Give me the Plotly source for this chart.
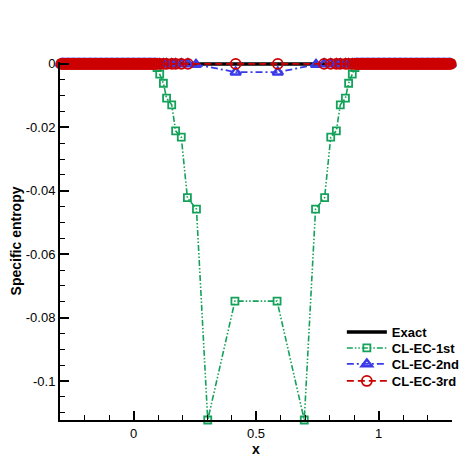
import plotly.graph_objects as go

# ---- data ----
dense_left_x = [-0.295, -0.29, -0.285, -0.28, -0.275, -0.27, -0.265, -0.26, -0.255, -0.25,
                -0.245, -0.24, -0.235, -0.23, -0.225, -0.22, -0.215, -0.21, -0.205, -0.2,
                -0.195, -0.19, -0.185, -0.18, -0.175, -0.17, -0.165, -0.16, -0.155, -0.15,
                -0.145, -0.14, -0.135, -0.13, -0.125, -0.12, -0.115, -0.11, -0.105, -0.1,
                -0.095, -0.09, -0.085, -0.08, -0.075, -0.07, -0.065, -0.06, -0.055, -0.05,
                -0.045, -0.04, -0.035, -0.03, -0.025, -0.02, -0.015, -0.01, -0.005, 0.0,
                0.005, 0.01, 0.015, 0.02, 0.025, 0.03, 0.035, 0.04, 0.045, 0.05,
                0.055, 0.06, 0.065, 0.07, 0.075, 0.08, 0.085, 0.09]
dense_right_x = [0.91, 0.915, 0.92, 0.925, 0.93, 0.935, 0.94, 0.945, 0.95, 0.955,
                 0.96, 0.965, 0.97, 0.975, 0.98, 0.985, 0.99, 0.995, 1.0, 1.005,
                 1.01, 1.015, 1.02, 1.025, 1.03, 1.035, 1.04, 1.045, 1.05, 1.055,
                 1.06, 1.065, 1.07, 1.075, 1.08, 1.085, 1.09, 1.095, 1.1, 1.105,
                 1.11, 1.115, 1.12, 1.125, 1.13, 1.135, 1.14, 1.145, 1.15, 1.155,
                 1.16, 1.165, 1.17, 1.175, 1.18, 1.185, 1.19, 1.195, 1.2, 1.205,
                 1.21, 1.215, 1.22, 1.225, 1.23, 1.235, 1.24, 1.245, 1.25, 1.255,
                 1.26, 1.265, 1.27, 1.275, 1.28, 1.285, 1.29, 1.295]
dense_y = [0.0, 0.0, 0.0, 0.0, 0.0, 0.0, 0.0, 0.0, 0.0, 0.0,
           0.0, 0.0, 0.0, 0.0, 0.0, 0.0, 0.0, 0.0, 0.0, 0.0,
           0.0, 0.0, 0.0, 0.0, 0.0, 0.0, 0.0, 0.0, 0.0, 0.0,
           0.0, 0.0, 0.0, 0.0, 0.0, 0.0, 0.0, 0.0, 0.0, 0.0,
           0.0, 0.0, 0.0, 0.0, 0.0, 0.0, 0.0, 0.0, 0.0, 0.0,
           0.0, 0.0, 0.0, 0.0, 0.0, 0.0, 0.0, 0.0, 0.0, 0.0,
           0.0, 0.0, 0.0, 0.0, 0.0, 0.0, 0.0, 0.0, 0.0, 0.0,
           0.0, 0.0, 0.0, 0.0, 0.0, 0.0, 0.0, 0.0]

exact_x = [-0.3, 1.3]
exact_y = [0.0, 0.0]

ec1_mid_x = [0.096, 0.107, 0.122, 0.135, 0.156, 0.172, 0.195, 0.220, 0.257, 0.303, 0.414,
             0.586, 0.697, 0.743, 0.780, 0.805, 0.828, 0.844, 0.865, 0.878, 0.893, 0.904]
ec1_mid_y = [-0.0012, -0.0032, -0.0061, -0.0108, -0.0129, -0.0211, -0.0231, -0.0422, -0.0458,
             -0.1123, -0.0748, -0.0748, -0.1123, -0.0458, -0.0422, -0.0231, -0.0211, -0.0129,
             -0.0108, -0.0061, -0.0032, -0.0012]

ec2_mid_x = [0.096, 0.107, 0.122, 0.135, 0.156, 0.172, 0.195, 0.222, 0.255, 0.417,
             0.589, 0.745, 0.778, 0.805, 0.828, 0.844, 0.865, 0.878, 0.893, 0.904]
ec2_mid_y = [0.0, 0.0, 0.0, 0.0, 0.0, 0.0, 0.0, 0.0, -0.0002, -0.0026,
             -0.0026, -0.0002, 0.0, 0.0, 0.0, 0.0, 0.0, 0.0, 0.0, 0.0]

ec3_mid_x = [0.096, 0.107, 0.122, 0.135, 0.156, 0.172, 0.195, 0.222, 0.417,
             0.589, 0.778, 0.805, 0.828, 0.844, 0.865, 0.878, 0.893, 0.904]
ec3_mid_y = [0.0, 0.0, 0.0, 0.0, 0.0, 0.0, 0.0, 0.0, 0.0,
             0.0, 0.0, 0.0, 0.0, 0.0, 0.0, 0.0, 0.0, 0.0]

x_tickvals = [0, 0.5, 1]
x_ticktext = ["0", "0.5", "1"]
y_tickvals = [0, -0.02, -0.04, -0.06, -0.08, -0.1]
y_ticktext = ["0", "-0.02", "-0.04", "-0.06", "-0.08", "-0.1"]

GREEN = "#14a25a"
BLUE = "#3a3ae8"
RED = "#cc0000"
FONT = "Liberation Sans"

fig = go.Figure()
fig.add_trace(go.Scatter(x=exact_x, y=exact_y, mode="lines", name="Exact",
                         line=dict(color="black", width=3.5), legend="legend"))
fig.add_trace(go.Scatter(x=dense_left_x + ec1_mid_x + dense_right_x,
                         y=dense_y + ec1_mid_y + dense_y,
                         mode="lines+markers", name="CL-EC-1st", legend="legend2",
                         line=dict(color=GREEN, width=1.6, dash="6px,2px,1.5px,2px,1.5px,2px"),
                         marker=dict(symbol="square-open", size=7, color=GREEN,
                                     line=dict(width=1.8, color=GREEN))))
fig.add_trace(go.Scatter(x=dense_left_x + ec2_mid_x + dense_right_x,
                         y=dense_y + ec2_mid_y + dense_y,
                         mode="lines+markers", name="CL-EC-2nd", legend="legend3",
                         line=dict(color=BLUE, width=1.8, dash="7px,3px,2px,3px"),
                         marker=dict(symbol="triangle-up-open", size=9, color=BLUE,
                                     line=dict(width=2.5, color=BLUE))))
fig.add_trace(go.Scatter(x=dense_left_x + ec3_mid_x + dense_right_x,
                         y=dense_y + ec3_mid_y + dense_y,
                         mode="lines+markers", name="CL-EC-3rd", legend="legend4",
                         line=dict(color=RED, width=1.8, dash="7px,4px"),
                         marker=dict(symbol="circle-open", size=10, color=RED,
                                     line=dict(width=1.8, color=RED))))
fig.update_traces(cliponaxis=False)

leg_font = dict(family=FONT, size=13, color="black", weight="bold")
def leg(y):
    return dict(x=0.719, y=y, xanchor="left", yanchor="middle",
                bgcolor="rgba(0,0,0,0)", borderwidth=0, font=leg_font, itemwidth=40)

# page body adds an 8px offset, so the figure is 466 px and margins are shifted by 8
fig.update_layout(
    width=466, height=466,
    margin=dict(l=52, r=22, t=54, b=54, autoexpand=False),
    paper_bgcolor="white", plot_bgcolor="white",
    font=dict(family=FONT, size=13, color="black"),
    showlegend=True,
    legend=leg(0.2458), legend2=leg(0.2011), legend3=leg(0.1564), legend4=leg(0.1089),
    xaxis=dict(range=[-0.3, 1.3], showline=True, linecolor="black", linewidth=2,
               showgrid=False, zeroline=False, ticks="inside", ticklen=9, tickwidth=2,
               tickcolor="black", tickvals=x_tickvals, ticktext=x_ticktext,
               tickfont=dict(size=13), automargin=False,
               minor=dict(ticks="inside", dtick=0.1, tick0=0, ticklen=5, tickwidth=1,
                          tickcolor="black", showgrid=False),
               title=dict(text="x", font=dict(size=14, weight="bold"), standoff=0)),
    yaxis=dict(range=[-0.1123, 0.0006], showline=True, linecolor="black", linewidth=2,
               showgrid=False, zeroline=False, ticks="inside", ticklen=9, tickwidth=2,
               tickcolor="black", tickvals=y_tickvals, ticktext=y_ticktext,
               tickfont=dict(size=13), automargin=False,
               minor=dict(ticks="inside", dtick=0.005, tick0=0, ticklen=5, tickwidth=1,
                          tickcolor="black", showgrid=False),
               title=dict(text="Specific entropy", font=dict(size=14, weight="bold"), standoff=4)),
)

fig.write_html("out.html")
